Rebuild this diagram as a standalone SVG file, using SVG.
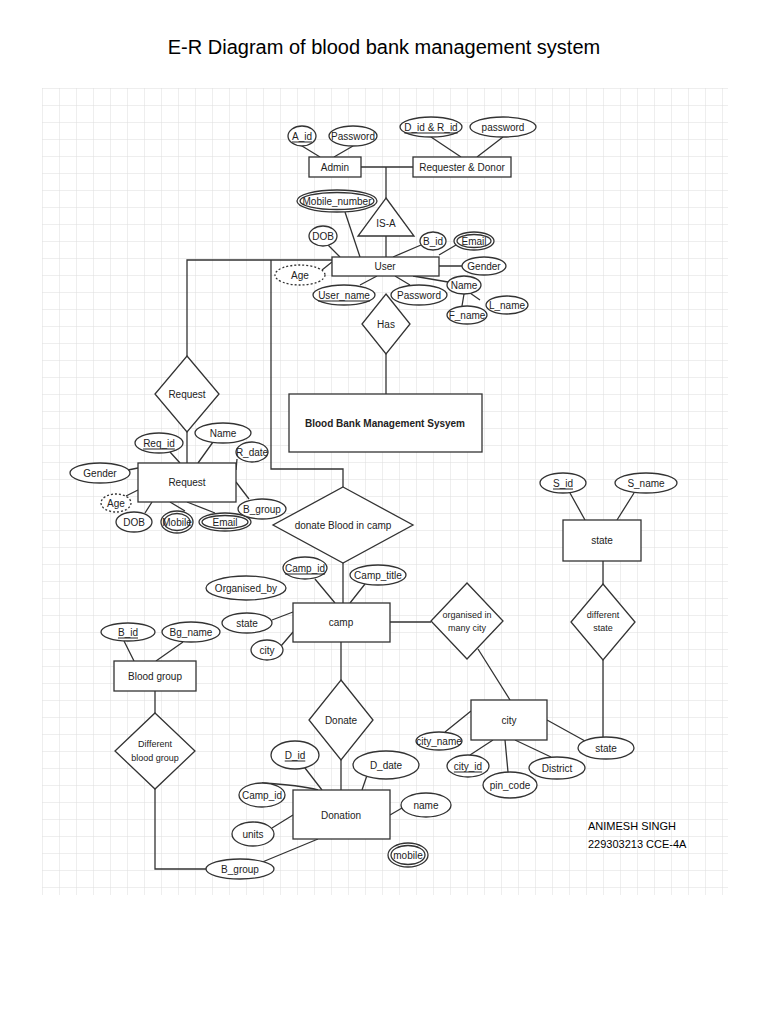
<svg xmlns="http://www.w3.org/2000/svg" width="768" height="1024" viewBox="0 0 768 1024">
<style>
.e{fill:#fff;stroke:#333;stroke-width:1.3}
.d{fill:#fff;stroke:#333;stroke-width:1.3;stroke-dasharray:2 2}
.l{stroke:#333;stroke-width:1.3;fill:none}
text{font-family:"Liberation Sans",Arial,sans-serif;font-size:10px;fill:#222;text-anchor:middle;dominant-baseline:central}
.u{text-decoration:underline}
</style>
<defs>
<pattern id="g" width="17" height="17" patternUnits="userSpaceOnUse" x="42" y="88">
<path d="M17 0H0V17" fill="none" stroke="#ddd" stroke-width="1"/>
</pattern>
</defs>
<rect width="768" height="1024" fill="#fff"/>
<rect x="42" y="88" width="686" height="807" fill="url(#g)"/>
<text x="384" y="47" style="font-size:20px;fill:#000">E-R Diagram of blood bank management system</text>
<g id="connectors" class="l">
<path d="M302 146L320 157M353 146L334 157M431 137L461 157M503 137L477 157"/>
<path d="M361 167H413M386 167V198M386 236V257"/>
<path d="M345 212L360 257M328 245L340 257M421 245L393 257M456 245L439 255M439 266H462M322 270L332 262M360 285L377 276M410 285L395 276M448 282L413 276M470 293L480 300M464 294L462 306"/>
<path d="M386 354V394"/>
<path d="M332 260H187V356M187 432V463"/>
<path d="M271 260V469H343V487"/>
<path d="M170 452L180 463M213 442L198 463M237 459L236 470M128 470L138 468M126 496L138 490M145 513L152 502M185 511L170 502M215 513L187 502M249 499L236 482"/>
<path d="M343 563V603M315 579L335 603M365 584L350 603M272 620L293 612M281 646L293 632"/>
<path d="M390 622H431M478 649L510 700"/>
<path d="M471 711L445 732M493 740L470 755M505 740L508 772M515 740L551 757M547 720L585 741"/>
<path d="M570 493L585 520M634 493L617 520M603 561V584M603 660V737"/>
<path d="M124 641L134 661M183 642L156 661M155 691V713M155 789V869H206"/>
<path d="M341 642V680M341 760V790M305 768L322 790M375 752L362 790M262 783Q300 785 318 790M272 828L293 815M390 815L402 808M260 863L318 839"/>
</g>
<g id="admin"><rect class="e" x="309" y="157" width="52" height="20"/><text x="335" y="167">Admin</text></g>
<g id="a_id"><ellipse class="e" cx="302" cy="136" rx="14" ry="10"/><text class="u" x="302" y="136">A_id</text></g>
<g id="admin_password"><ellipse class="e" cx="353" cy="136" rx="24" ry="10"/><text x="353" y="136">Password</text></g>
<g id="reqdonor"><rect class="e" x="413" y="157" width="98" height="20"/><text x="462" y="167">Requester &amp; Donor</text></g>
<g id="did"><ellipse class="e" cx="431" cy="127" rx="31" ry="10"/><text class="u" x="431" y="127">D_id &amp; R_id</text></g>
<g id="rd_password"><ellipse class="e" cx="503" cy="127" rx="33" ry="10"/><text x="503" y="127">password</text></g>
<g id="isa"><path class="e" d="M386 198L414 236H358Z"/><text x="386" y="223">IS-A</text></g>
<g id="user"><rect class="e" x="332" y="257" width="107" height="19"/><text x="385" y="266">User</text></g>
<g id="mobile_number"><ellipse class="e" cx="337" cy="201" rx="40" ry="11"/><ellipse class="e" cx="337" cy="201" rx="37" ry="8.5"/><text x="337" y="201">Mobile_number</text></g>
<g id="user_dob"><ellipse class="e" cx="323" cy="236" rx="14" ry="10"/><text x="323" y="236">DOB</text></g>
<g id="user_bid"><ellipse class="e" cx="433" cy="241" rx="13" ry="9"/><text x="433" y="241">B_id</text></g>
<g id="user_email"><ellipse class="e" cx="474" cy="241" rx="20" ry="9"/><ellipse class="e" cx="474" cy="241" rx="17" ry="6.5"/><text x="474" y="241">Email</text></g>
<g id="user_gender"><ellipse class="e" cx="484" cy="266" rx="22" ry="9"/><text x="484" y="266">Gender</text></g>
<g id="user_age"><ellipse class="d" cx="300" cy="275" rx="25" ry="10"/><text x="300" y="275">Age</text></g>
<g id="user_name"><ellipse class="e" cx="344" cy="295" rx="31" ry="10"/><text class="u" x="344" y="295">User_name</text></g>
<g id="user_password"><ellipse class="e" cx="419" cy="295" rx="28" ry="10"/><text x="419" y="295">Password</text></g>
<g id="name"><ellipse class="e" cx="464" cy="285" rx="17" ry="9"/><text x="464" y="285">Name</text></g>
<g id="lname"><ellipse class="e" cx="507" cy="305" rx="21" ry="9"/><text x="507" y="305">L_name</text></g>
<g id="fname"><ellipse class="e" cx="467" cy="315" rx="20" ry="9"/><text x="467" y="315">F_name</text></g>
<g id="has"><path class="e" d="M386 294L410 324L386 354L362 324Z"/><text x="386" y="324">Has</text></g>
<g id="bbms"><rect class="e" x="289" y="394" width="193" height="58"/><text x="385" y="423" style="font-weight:bold">Blood Bank Management Sysyem</text></g>
<g id="request_rel"><path class="e" d="M187 356L219 394L187 432L155 394Z"/><text x="187" y="394">Request</text></g>
<g id="request"><rect class="e" x="138" y="463" width="98" height="39"/><text x="187" y="482">Request</text></g>
<g id="req_id"><ellipse class="e" cx="159" cy="443" rx="24" ry="10"/><text class="u" x="159" y="443">Req_id</text></g>
<g id="req_name"><ellipse class="e" cx="223" cy="433" rx="28" ry="10"/><text x="223" y="433">Name</text></g>
<g id="r_date"><ellipse class="e" cx="252" cy="452" rx="16" ry="10"/><text x="252" y="452">R_date</text></g>
<g id="req_gender"><ellipse class="e" cx="100" cy="473" rx="30" ry="10"/><text x="100" y="473">Gender</text></g>
<g id="req_age"><ellipse class="d" cx="116" cy="503" rx="15" ry="9"/><text x="116" y="503">Age</text></g>
<g id="req_dob"><ellipse class="e" cx="134" cy="522" rx="18" ry="10"/><text x="134" y="522">DOB</text></g>
<g id="req_mobile"><ellipse class="e" cx="177" cy="522" rx="16" ry="11"/><ellipse class="e" cx="177" cy="522" rx="13" ry="8.5"/><text x="177" y="522">Mobile</text></g>
<g id="req_email"><ellipse class="e" cx="225" cy="522" rx="26" ry="9"/><ellipse class="e" cx="225" cy="522" rx="23" ry="6.5"/><text x="225" y="522">Email</text></g>
<g id="req_bgroup"><ellipse class="e" cx="262" cy="509" rx="24" ry="10"/><text x="262" y="509">B_group</text></g>
<g id="donate_camp"><path class="e" d="M343 487L413 525L343 563L273 525Z"/><text x="343" y="525">donate Blood in camp</text></g>
<g id="camp"><rect class="e" x="293" y="603" width="97" height="39"/><text x="341" y="622">camp</text></g>
<g id="camp_id"><ellipse class="e" cx="305" cy="568" rx="22" ry="11"/><text class="u" x="305" y="568">Camp_id</text></g>
<g id="camp_title"><ellipse class="e" cx="378" cy="575" rx="28" ry="10"/><text x="378" y="575">Camp_title</text></g>
<g id="organised_by"><ellipse class="e" cx="246" cy="588" rx="40" ry="12"/><text x="246" y="588">Organised_by</text></g>
<g id="camp_state"><ellipse class="e" cx="247" cy="623" rx="25" ry="10"/><text x="247" y="623">state</text></g>
<g id="camp_city"><ellipse class="e" cx="267" cy="650" rx="16" ry="10"/><text x="267" y="650">city</text></g>
<g id="organised_city"><path class="e" d="M467 583L503 621L467 659L431 621Z"/><text x="467" y="615" style="font-size:9px">organised in</text><text x="467" y="628" style="font-size:9px">many city</text></g>
<g id="city"><rect class="e" x="471" y="700" width="76" height="40"/><text x="509" y="720">city</text></g>
<g id="city_name"><ellipse class="e" cx="439" cy="741" rx="23" ry="9"/><text x="439" y="741">city_name</text></g>
<g id="city_id"><ellipse class="e" cx="468" cy="766" rx="21" ry="11"/><text class="u" x="468" y="766">city_id</text></g>
<g id="pin_code"><ellipse class="e" cx="510" cy="785" rx="27" ry="13"/><text x="510" y="785">pin_code</text></g>
<g id="district"><ellipse class="e" cx="557" cy="768" rx="28" ry="11"/><text x="557" y="768">District</text></g>
<g id="city_state"><ellipse class="e" cx="606" cy="748" rx="28" ry="11"/><text x="606" y="748">state</text></g>
<g id="state"><rect class="e" x="563" y="520" width="78" height="41"/><text x="602" y="540">state</text></g>
<g id="s_id"><ellipse class="e" cx="563" cy="483" rx="23" ry="10"/><text class="u" x="563" y="483">S_id</text></g>
<g id="s_name"><ellipse class="e" cx="646" cy="483" rx="31" ry="10"/><text x="646" y="483">S_name</text></g>
<g id="diff_state"><path class="e" d="M603 584L635 622L603 660L571 622Z"/><text x="603" y="615" style="font-size:9px">different</text><text x="603" y="628" style="font-size:9px">state</text></g>
<g id="blood_group"><rect class="e" x="114" y="661" width="82" height="30"/><text x="155" y="676">Blood group</text></g>
<g id="bg_id"><ellipse class="e" cx="128" cy="632" rx="27" ry="9"/><text class="u" x="128" y="632">B_id</text></g>
<g id="bg_name"><ellipse class="e" cx="191" cy="632" rx="29" ry="10"/><text x="191" y="632">Bg_name</text></g>
<g id="diff_bg"><path class="e" d="M155 713L195 751L155 789L115 751Z"/><text x="155" y="744" style="font-size:9px">Different</text><text x="155" y="758" style="font-size:9px">blood group</text></g>
<g id="donate"><path class="e" d="M341 680L373 720L341 760L309 720Z"/><text x="341" y="720">Donate</text></g>
<g id="donation"><rect class="e" x="293" y="790" width="97" height="49"/><text x="341" y="815">Donation</text></g>
<g id="d_id"><ellipse class="e" cx="295" cy="755" rx="24" ry="14"/><text class="u" x="295" y="755">D_id</text></g>
<g id="d_date"><ellipse class="e" cx="386" cy="765" rx="33" ry="14"/><text x="386" y="765">D_date</text></g>
<g id="don_camp_id"><ellipse class="e" cx="262" cy="795" rx="23" ry="12"/><text x="262" y="795">Camp_id</text></g>
<g id="units"><ellipse class="e" cx="253" cy="834" rx="21" ry="12"/><text x="253" y="834">units</text></g>
<g id="don_name"><ellipse class="e" cx="426" cy="805" rx="25" ry="12"/><text x="426" y="805">name</text></g>
<g id="don_mobile"><ellipse class="e" cx="408" cy="855" rx="20" ry="12"/><ellipse class="e" cx="408" cy="855" rx="17" ry="9.5"/><text x="408" y="855">mobile</text></g>
<g id="b_group"><ellipse class="e" cx="240" cy="869" rx="34" ry="10"/><text x="240" y="869">B_group</text></g>
<text x="588" y="826" style="font-size:11px;text-anchor:start;fill:#000">ANIMESH SINGH</text>
<text x="588" y="844" style="font-size:11px;text-anchor:start;fill:#000">229303213 CCE-4A</text>
</svg>
